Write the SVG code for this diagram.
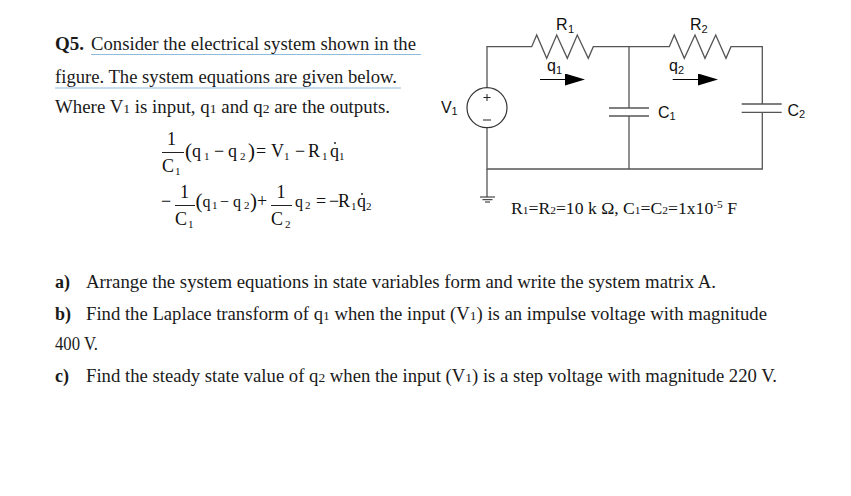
<svg xmlns="http://www.w3.org/2000/svg" width="851" height="496" viewBox="0 0 851 496">
<style>
.t{font-family:"Liberation Serif",serif;font-size:18px;fill:#1a1a1a}
.b{font-weight:bold}
.s{font-size:13px}
.e{font-family:"Liberation Serif",serif;font-size:18px;fill:#111}
.m{font-size:16px}
.par{font-size:21px}
.es{font-family:"Liberation Serif",serif;font-size:11px;fill:#111}
.c{font-family:"Liberation Sans",sans-serif;font-size:16px;fill:#111}
.cs{font-family:"Liberation Sans",sans-serif;font-size:11px;fill:#111}
.w{fill:none;stroke:#555;stroke-width:1.3}
.k{fill:none;stroke:#222;stroke-width:1}
.u{stroke:#8fbbdf;stroke-width:1}
.p{font-family:"Liberation Serif",serif;font-size:17px;fill:#111}
.ps{font-size:11px}
</style>
<defs>
<marker id="ah" markerUnits="userSpaceOnUse" markerWidth="20" markerHeight="12" refX="0" refY="6" orient="auto"><path d="M0 0L20 6L0 12Z" fill="#000"/></marker>
</defs>
<rect width="851" height="496" fill="#fff"/>
<g id="intro">
<text class="t b" x="55" y="50" style="font-size:19px">Q5.</text>
<text class="t" x="91" y="50" textLength="325" lengthAdjust="spacingAndGlyphs">Consider the electrical system shown in the</text>
<line class="u" x1="91" y1="54.5" x2="421" y2="54.5"/>
<text class="t" x="55" y="82.500" textLength="342" lengthAdjust="spacingAndGlyphs">figure. The system equations are given below.</text>
<line class="u" x1="55" y1="88" x2="401" y2="88"/>
<text class="t" x="55" y="113" textLength="335" lengthAdjust="spacingAndGlyphs">Where V<tspan class="s">1</tspan> is input, q<tspan class="s">1</tspan> and q<tspan class="s">2</tspan> are the outputs.</text>
</g>
<g id="equation-1">
<text class="e" x="171.5" y="145" text-anchor="middle">1</text>
<line class="k" x1="162" y1="152.5" x2="184" y2="152.5"/>
<text class="e" x="162" y="172">C</text><text class="es" x="175" y="175">1</text>
<text class="e par" x="185" y="158">(</text>
<text class="e" x="192" y="157">q</text><text class="es" x="204" y="160">1</text>
<text class="e" x="214" y="157">−</text>
<text class="e" x="228" y="157">q</text><text class="es" x="240" y="160">2</text>
<text class="e par" x="248" y="158">)</text>
<text class="e" x="256" y="157">=</text>
<text class="e" x="271" y="157">V</text><text class="es" x="284" y="160">1</text>
<text class="e" x="295" y="157">−</text>
<text class="e" x="308" y="157">R</text><text class="es" x="322" y="160">1</text>
<text class="e" x="330" y="157">q</text><circle cx="335" cy="143" r="0.9" fill="#111"/><text class="es" x="339" y="160">1</text>
</g>
<g id="equation-2">
<text class="e" x="161" y="207">−</text>
<text class="e" x="184.5" y="198" text-anchor="middle">1</text>
<line class="k" x1="175" y1="205.5" x2="195" y2="205.5"/>
<text class="e" x="175" y="225">C</text><text class="es" x="188" y="228">1</text>
<text class="e par" x="195.500" y="208">(</text>
<text class="e m" x="202.500" y="207">q</text><text class="es" x="212" y="209">1</text>
<text class="e m" x="220" y="207">−</text>
<text class="e m" x="233" y="207">q</text><text class="es" x="244" y="209">2</text>
<text class="e par" x="250" y="208">)</text>
<text class="e" x="257" y="207">+</text>
<text class="e" x="281" y="198" text-anchor="middle">1</text>
<line class="k" x1="271" y1="205.5" x2="292" y2="205.5"/>
<text class="e" x="271" y="225">C</text><text class="es" x="285" y="228">2</text>
<text class="e m" x="295" y="207">q</text><text class="es" x="305" y="209">2</text>
<text class="e" x="316" y="207">=</text>
<text class="e" x="329" y="207">−</text>
<text class="e" x="338" y="207">R</text><text class="es" x="351" y="210">1</text>
<text class="e" x="357" y="207">q</text><circle cx="362" cy="194" r="0.9" fill="#111"/><text class="es" x="366" y="210">2</text>
</g>
<g id="connectors">
<path class="w" d="M487 87.500V46.700H531.700L536.700 35L546.700 58.300L556.700 35L567.300 58.300L577.300 35L588.300 58.300L593.300 46.700H669.300L674.300 35L684.300 58.300L695 35L705 58.300L715.700 35L726 58.300L731 46.700H762.300V104"/>
<path class="w" d="M762.300 112.300V169H487V127.500"/>
<path class="w" d="M629 46.700V108M629 116V169"/>
<path class="w" d="M487 169V197"/>
<path class="k" d="M540 79.500H565" marker-end="url(#ah)" style="stroke:#000"/>
<path class="k" d="M672.700 79.500H698" marker-end="url(#ah)" style="stroke:#000"/>
</g>
<g id="V1">
<circle cx="487" cy="107.700" r="20" fill="#fff" stroke="#333" stroke-width="1.200"/>
<path class="k" d="M483.500 97.500H490.500M487 94V101M483 120H491"/>
<text class="c" x="441" y="113">V</text><text class="cs" x="451.500" y="115">1</text>
</g>
<g id="R1"><text class="c" x="556" y="30">R</text><text class="cs" x="568" y="33">1</text></g>
<g id="R2"><text class="c" x="690" y="30">R</text><text class="cs" x="701.500" y="33">2</text></g>
<g id="q1"><text class="c" x="547" y="71">q</text><text class="cs" x="556" y="74">1</text></g>
<g id="q2"><text class="c" x="669" y="71">q</text><text class="cs" x="678" y="74">2</text></g>
<g id="C1">
<path class="w" d="M609 108H649M609 116H649"/>
<text class="c" x="658" y="118">C</text><text class="cs" x="669.500" y="120">1</text>
</g>
<g id="C2">
<path class="w" d="M741.700 104H781.700M741.700 112.300H781.700"/>
<text class="c" x="787.500" y="116">C</text><text class="cs" x="799" y="118">2</text>
</g>
<g id="ground"><path class="k" d="M480 197H495M482.500 199.700H492.500M485 202H490"/></g>
<g id="values">
<text class="p" x="511" y="214" textLength="226" lengthAdjust="spacingAndGlyphs">R<tspan class="ps">1</tspan>=R<tspan class="ps">2</tspan>=10 k Ω, C<tspan class="ps">1</tspan>=C<tspan class="ps">2</tspan>=1x10<tspan class="ps" dy="-6">-5</tspan><tspan dy="6"> F</tspan></text>
</g>
<g id="questions">
<text class="t b" x="55" y="288">a)</text>
<text class="t" x="86" y="288" textLength="630" lengthAdjust="spacingAndGlyphs">Arrange the system equations in state variables form and write the system matrix A.</text>
<text class="t b" x="55" y="320">b)</text>
<text class="t" x="86" y="320" textLength="681" lengthAdjust="spacingAndGlyphs">Find the Laplace transform of q<tspan class="s">1</tspan> when the input (V<tspan class="s">1</tspan>) is an impulse voltage with magnitude</text>
<text class="t" x="55" y="350" textLength="43" lengthAdjust="spacingAndGlyphs">400 V.</text>
<text class="t b" x="55" y="382">c)</text>
<text class="t" x="86" y="382" textLength="691" lengthAdjust="spacingAndGlyphs">Find the steady state value of q<tspan class="s">2</tspan> when the input (V<tspan class="s">1</tspan>) is a step voltage with magnitude 220 V.</text>
</g>
</svg>
